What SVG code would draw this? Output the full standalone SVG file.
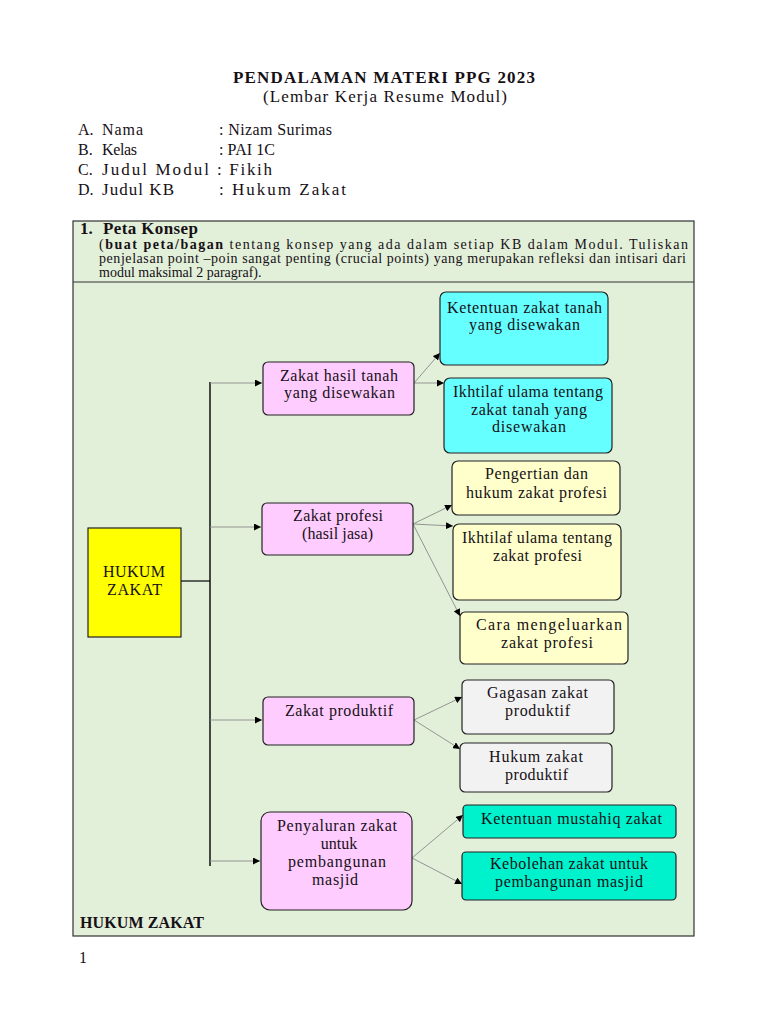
<svg xmlns="http://www.w3.org/2000/svg" width="768" height="1024" viewBox="0 0 768 1024">
<style>
text{font-family:"Liberation Serif","DejaVu Serif",serif;fill:#161016}
.t{font-size:16px;text-anchor:middle}
.hd{font-size:16px}
.b{font-weight:bold}
.p{font-size:14px}
.n{stroke:#222;stroke-width:1.2}
.c{stroke:#8a8a8a;stroke-width:0.9;fill:none}
.pink{fill:#ffccff}
.cyan{fill:#66ffff}
.ylw{fill:#ffffcc}
.gry{fill:#f2f2f2}
.teal{fill:#00f2cc}
</style>
<defs>
<marker id="ah" viewBox="0 0 10 10" refX="10" refY="5" markerWidth="7" markerHeight="7" markerUnits="userSpaceOnUse" orient="auto"><path d="M0,0 L10,5 L0,10 z" fill="#000"/></marker>
</defs>
<rect width="768" height="1024" fill="#fff"/>
<text x="233" y="83" class="b" font-size="17" textLength="302" lengthAdjust="spacing">PENDALAMAN MATERI PPG 2023</text>
<text x="263" y="102" font-size="17" textLength="244" lengthAdjust="spacing">(Lembar Kerja Resume Modul)</text>
<text x="78" y="135" class="hd">A.</text><text x="102" y="135" class="hd" textLength="41" lengthAdjust="spacing">Nama</text><text x="219" y="135" class="hd" textLength="113" lengthAdjust="spacing">: Nizam Surimas</text>
<text x="78" y="155" class="hd">B.</text><text x="102" y="155" class="hd" textLength="35" lengthAdjust="spacing">Kelas</text><text x="219" y="155" class="hd" textLength="56" lengthAdjust="spacing">: PAI 1C</text>
<text x="78" y="175" class="hd">C.</text><text x="102" y="175" font-size="17" textLength="107" lengthAdjust="spacing">Judul Modul</text><text x="217" y="175" font-size="17" textLength="55" lengthAdjust="spacing">: Fikih</text>
<text x="78" y="195" class="hd">D.</text><text x="102" y="195" font-size="17" textLength="72" lengthAdjust="spacing">Judul KB</text><text x="219" y="195" font-size="17" textLength="127" lengthAdjust="spacing">: Hukum Zakat</text>
<rect x="73" y="221" width="621" height="715" fill="#e2efd9" stroke="#333" stroke-width="1.2"/>
<line x1="73" y1="282" x2="694" y2="282" stroke="#333" stroke-width="1.2"/>
<text x="80" y="234" class="b" font-size="17">1.</text><text x="103" y="234" class="b" font-size="17" textLength="95" lengthAdjust="spacing">Peta Konsep</text>
<text x="99" y="249" class="p" textLength="589" lengthAdjust="spacing">(<tspan font-weight="bold">buat peta/bagan</tspan> tentang konsep yang ada dalam setiap KB dalam Modul. Tuliskan</text>
<text x="99" y="263" class="p" textLength="587" lengthAdjust="spacing">penjelasan point –poin sangat penting (crucial points) yang merupakan refleksi dan intisari dari</text>
<text x="99" y="277" class="p">modul maksimal 2 paragraf).</text>
<text x="80" y="928" class="b" font-size="16" textLength="124" lengthAdjust="spacing">HUKUM ZAKAT</text>
<text x="79" y="963" class="hd">1</text>
<g id="connectors">
<line x1="210" y1="382" x2="210" y2="866" stroke="#000" stroke-width="1.4"/>
<line x1="181" y1="581" x2="210" y2="581" stroke="#000" stroke-width="1.2"/>
<line class="c" x1="210" y1="383" x2="262" y2="383" marker-end="url(#ah)"/>
<line class="c" x1="210" y1="527" x2="261" y2="527" marker-end="url(#ah)"/>
<line class="c" x1="210" y1="720" x2="262" y2="720" marker-end="url(#ah)"/>
<line class="c" x1="210" y1="861" x2="260" y2="861" marker-end="url(#ah)"/>
<line class="c" x1="414" y1="383" x2="440" y2="353" marker-end="url(#ah)"/>
<line class="c" x1="414" y1="383" x2="444" y2="383" marker-end="url(#ah)"/>
<line class="c" x1="413" y1="524" x2="452" y2="505" marker-end="url(#ah)"/>
<line class="c" x1="413" y1="524" x2="453" y2="526" marker-end="url(#ah)"/>
<line class="c" x1="413" y1="524" x2="460" y2="616" marker-end="url(#ah)"/>
<line class="c" x1="414" y1="720" x2="462" y2="697" marker-end="url(#ah)"/>
<line class="c" x1="414" y1="720" x2="460" y2="749" marker-end="url(#ah)"/>
<line class="c" x1="412" y1="858" x2="463" y2="815" marker-end="url(#ah)"/>
<line class="c" x1="412" y1="858" x2="462" y2="884" marker-end="url(#ah)"/>
</g>
<g id="hukum-zakat"><rect x="88" y="528" width="93" height="109" fill="#ffff00" class="n"/>
<text class="t" x="134" y="577" textLength="62" lengthAdjust="spacing">HUKUM</text><text class="t" x="134.5" y="595" textLength="55" lengthAdjust="spacing">ZAKAT</text></g>
<g id="zakat-tanah"><rect x="263" y="362" width="151" height="53" rx="5" class="pink n"/>
<text class="t" x="339" y="381" textLength="118" lengthAdjust="spacing">Zakat hasil tanah</text><text class="t" x="339.5" y="398" textLength="111" lengthAdjust="spacing">yang disewakan</text></g>
<g id="zakat-profesi"><rect x="262" y="503" width="151" height="52" rx="5" class="pink n"/>
<text class="t" x="338" y="521" textLength="90" lengthAdjust="spacing">Zakat profesi</text><text class="t" x="337.5" y="539" textLength="71" lengthAdjust="spacing">(hasil jasa)</text></g>
<g id="zakat-produktif"><rect x="263" y="697" width="151" height="48" rx="5" class="pink n"/>
<text class="t" x="339" y="716" textLength="108" lengthAdjust="spacing">Zakat produktif</text></g>
<g id="penyaluran"><rect x="261" y="812" width="151" height="98" rx="9" class="pink n"/>
<text class="t" x="337" y="831" textLength="120" lengthAdjust="spacing">Penyaluran zakat</text><text class="t" x="339" y="849">untuk</text><text class="t" x="337" y="867" textLength="98" lengthAdjust="spacing">pembangunan</text><text class="t" x="335" y="885" textLength="46" lengthAdjust="spacing">masjid</text></g>
<g id="ketentuan-tanah"><rect x="440" y="292" width="168" height="73" rx="6" class="cyan n"/>
<text class="t" x="524.5" y="313" textLength="155" lengthAdjust="spacing">Ketentuan zakat tanah</text><text class="t" x="524.5" y="330" textLength="111" lengthAdjust="spacing">yang disewakan</text></g>
<g id="ikhtilaf-tanah"><rect x="444" y="378" width="168" height="75" rx="6" class="cyan n"/>
<text class="t" x="528" y="397" textLength="150" lengthAdjust="spacing">Ikhtilaf ulama tentang</text><text class="t" x="529" y="415" textLength="116" lengthAdjust="spacing">zakat tanah yang</text><text class="t" x="529" y="432" textLength="74" lengthAdjust="spacing">disewakan</text></g>
<g id="pengertian-profesi"><rect x="452" y="461" width="168" height="54" rx="6" class="ylw n"/>
<text class="t" x="536.5" y="479" textLength="103" lengthAdjust="spacing">Pengertian dan</text><text class="t" x="536.5" y="498" textLength="141" lengthAdjust="spacing">hukum zakat profesi</text></g>
<g id="ikhtilaf-profesi"><rect x="453" y="524" width="168" height="76" rx="6" class="ylw n"/>
<text class="t" x="537" y="543" textLength="150" lengthAdjust="spacing">Ikhtilaf ulama tentang</text><text class="t" x="537.5" y="561" textLength="89" lengthAdjust="spacing">zakat profesi</text></g>
<g id="cara-profesi"><rect x="460" y="612" width="168" height="52" rx="5" class="ylw n"/>
<text class="t" x="549" y="630" textLength="146" lengthAdjust="spacing">Cara mengeluarkan</text><text class="t" x="547" y="648" textLength="92" lengthAdjust="spacing">zakat profesi</text></g>
<g id="gagasan-produktif"><rect x="462" y="680" width="152" height="54" rx="5" class="gry n"/>
<text class="t" x="537.5" y="698" textLength="101" lengthAdjust="spacing">Gagasan zakat</text><text class="t" x="537.5" y="716" textLength="65" lengthAdjust="spacing">produktif</text></g>
<g id="hukum-produktif"><rect x="460" y="743" width="152" height="49" rx="5" class="gry n"/>
<text class="t" x="536" y="762" textLength="94" lengthAdjust="spacing">Hukum zakat</text><text class="t" x="536.5" y="780" textLength="63" lengthAdjust="spacing">produktif</text></g>
<g id="ketentuan-mustahiq"><rect x="463" y="805" width="213" height="33" rx="4" class="teal n"/>
<text class="t" x="571.5" y="824" textLength="181" lengthAdjust="spacing">Ketentuan mustahiq zakat</text></g>
<g id="kebolehan-masjid"><rect x="462" y="852" width="214" height="48" rx="4" class="teal n"/>
<text class="t" x="569" y="869" textLength="158" lengthAdjust="spacing">Kebolehan zakat untuk</text><text class="t" x="569" y="887" textLength="148" lengthAdjust="spacing">pembangunan masjid</text></g>
</svg>
